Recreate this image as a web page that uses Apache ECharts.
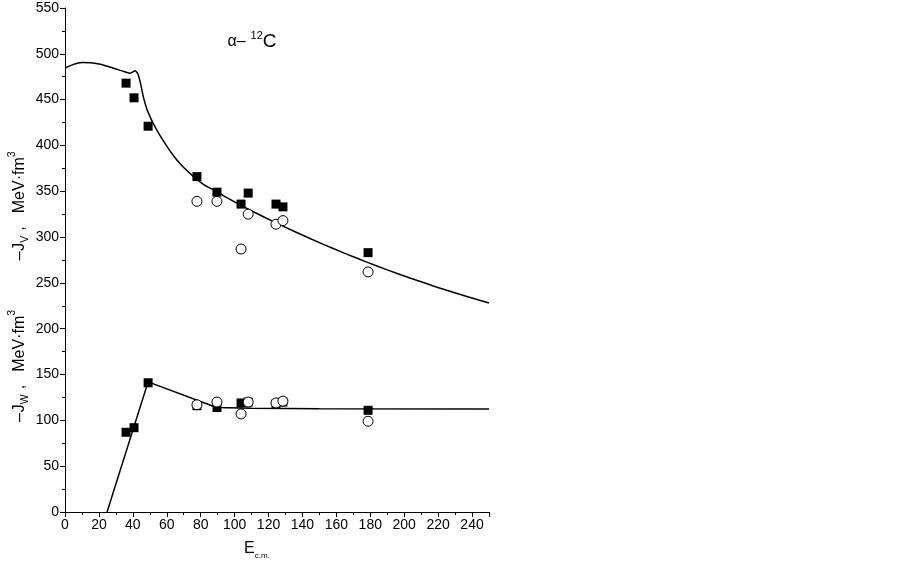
<!DOCTYPE html>
<html>
<head>
<meta charset="utf-8">
<script src="https://cdn.jsdelivr.net/npm/echarts@6/dist/echarts.min.js"></script>
<style>
  html, body { margin: 0; padding: 0; background: #fff; }
  #main { width: 903px; height: 565px; }
</style>
</head>
<body>
<div id="main"></div>
<script>
// measured points, J_V (upper) and J_W (lower)
var energy = [36, 40.7, 49, 77.8, 89.6, 103.8, 108, 124.4, 128.5, 178.7];
var jvSquares = [468, 452, 421, 366, 349, 336, 348, 336, 333, 283];
var jvCircles = [null, null, null, 339, 339, 287, 325, 314, 318, 262];
var jwSquares = [87, 92, 141, 116, 114, 119, 120, 118, 120, 111];
var jwCircles = [null, null, null, 117, 120, 107, 120, 119, 121, 99];

// theory curves
var jvLineE = [0, 5, 10, 15, 20, 25, 30, 35, 38.5, 41.3, 43, 44.5, 46.2, 48.2, 50, 52, 55, 58, 61, 64, 67, 70, 75.5, 82, 89.4, 96, 103, 112, 122.6, 135, 152, 165, 178.7, 190, 203.4, 225, 250];
var jvLineVal = [484.5, 488.5, 490.5, 490.3, 489, 486.5, 483.5, 480.5, 478.7, 481.5, 478, 468, 453, 440, 432, 424, 414, 405, 396.6, 388.8, 381.9, 375.9, 366.5, 357.1, 349.8, 342.5, 335.4, 326.8, 317.2, 306.4, 292.3, 282.2, 272.1, 264.2, 255.4, 242, 228];
var jwLineE = [24.8, 49, 89.4, 110, 150, 250];
var jwLineVal = [0, 142, 114, 113.3, 112.8, 112.3];

var xTicks = { min: 0, max: 250, step: 20 };
var yTicks = { min: 0, max: 550, step: 50 };

function zip(xs, ys) {
  var out = [];
  for (var i = 0; i < xs.length; i++) {
    if (ys[i] != null) out.push([xs[i], ys[i]]);
  }
  return out;
}

var FONT = '"Liberation Sans", Arial, sans-serif';
var ctx = document.createElement("canvas").getContext("2d");
function textW(t, size) {
  ctx.font = size + "px " + FONT;
  return ctx.measureText(t).width;
}

// lay pieces of text side by side (for sub/superscripts)
function richText(pieces, x, y, rotation) {
  var children = [];
  var cx = 0;
  pieces.forEach(function (p) {
    children.push({
      type: "text",
      x: cx,
      y: p.dy || 0,
      style: {
        text: p.text,
        fontSize: p.size,
        fontFamily: FONT,
        fill: "#000",
        verticalAlign: "middle",
        align: "left",
      },
    });
    cx += textW(p.text, p.size) + (p.gap || 0);
  });
  var total = cx;
  return {
    type: "group",
    x: x,
    y: y,
    rotation: rotation || 0,
    children: children.map(function (c) {
      c.x -= total / 2;
      return c;
    }),
  };
}

function yTitle(sub, cy) {
  return richText([
    { text: "–", size: 16, gap: 1 },
    { text: "J", size: 16 },
    { text: sub, size: 10.5, dy: 5, gap: 5 },
    { text: ",", size: 16, gap: 13 },
    { text: "MeV·fm", size: 16 },
    { text: "3", size: 10.5, dy: -8 },
  ], 20, cy, Math.PI / 2);
}

var squareStyle = { color: "#000", opacity: 1 };
var circleStyle = { color: "#fff", borderColor: "#000", borderWidth: 1, opacity: 1 };

var chart = echarts.init(document.getElementById("main"));
var option = {
  animation: false,
  backgroundColor: "#fff",
  grid: { left: 65, right: 414, top: 8, bottom: 53 },
  xAxis: {
    type: "value",
    min: xTicks.min,
    max: xTicks.max,
    interval: xTicks.step,
    splitLine: { show: false },
    axisLine: { onZero: false, lineStyle: { color: "#000", width: 1 } },
    axisTick: { length: 5, lineStyle: { color: "#000" } },
    minorTick: { show: true, splitNumber: 2, length: 3, lineStyle: { color: "#000" } },
    axisLabel: {
      color: "#000",
      fontSize: 14,
      fontFamily: FONT,
      margin: 6,
      formatter: function (v) { return v === 250 ? "" : v; },
    },
  },
  yAxis: {
    type: "value",
    min: yTicks.min,
    max: yTicks.max,
    interval: yTicks.step,
    splitLine: { show: false },
    axisLine: { show: true, onZero: false, lineStyle: { color: "#000", width: 1 } },
    axisTick: { show: true, length: 5, lineStyle: { color: "#000" } },
    minorTick: { show: true, splitNumber: 2, length: 3, lineStyle: { color: "#000" } },
    axisLabel: { color: "#000", fontSize: 14, fontFamily: FONT, margin: 6 },
  },
  series: [
    {
      type: "line",
      data: zip(jvLineE, jvLineVal),
      smooth: 0.2,
      showSymbol: false,
      lineStyle: { color: "#000", width: 1.5 },
      z: 1,
    },
    {
      type: "line",
      data: zip(jwLineE, jwLineVal),
      showSymbol: false,
      lineStyle: { color: "#000", width: 1.5 },
      z: 1,
    },
    {
      type: "scatter",
      data: zip(energy, jvSquares),
      symbol: "rect",
      symbolSize: 9,
      itemStyle: squareStyle,
      z: 2,
    },
    {
      type: "scatter",
      data: zip(energy, jwSquares),
      symbol: "rect",
      symbolSize: 9,
      itemStyle: squareStyle,
      z: 2,
    },
    {
      type: "scatter",
      data: zip(energy, jvCircles),
      symbol: "circle",
      symbolSize: 10,
      itemStyle: circleStyle,
      z: 3,
    },
    {
      type: "scatter",
      data: zip(energy, jwCircles),
      symbol: "circle",
      symbolSize: 10,
      itemStyle: circleStyle,
      z: 3,
    },
  ],
  graphic: [
    richText([
      { text: "α–", size: 16, gap: 5 },
      { text: "12", size: 11, dy: -6 },
      { text: "C", size: 19 },
    ], 252, 42, 0),
    richText([
      { text: "E", size: 16 },
      { text: "c.m.", size: 8, dy: 7 },
    ], 257, 549, 0),
    yTitle("V", 206),
    yTitle("W", 366),
  ],
};
chart.setOption(option);
</script>
</body>
</html>
